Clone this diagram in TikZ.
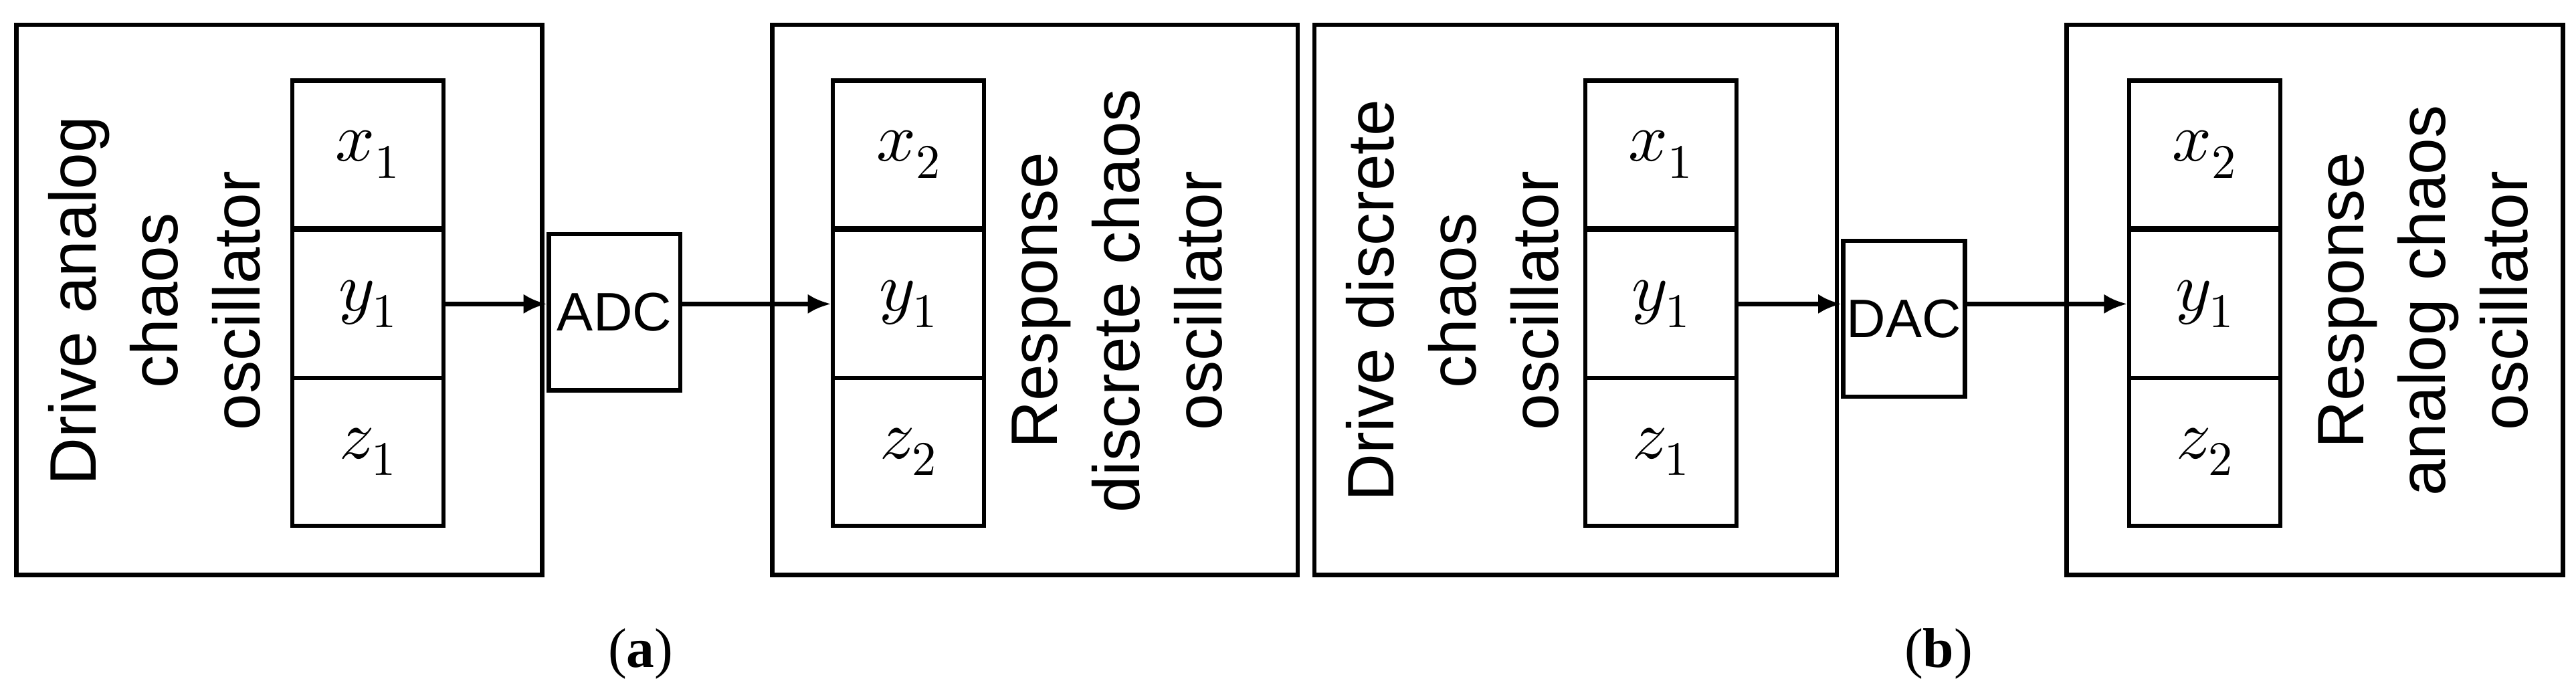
\documentclass[tikz,border=0pt]{standalone}
\usepackage{fontspec}
\setmainfont{Liberation Serif}
\setsansfont{Liberation Sans}
\usepackage{unicode-math}
\setmathfont{Latin Modern Math}
\usetikzlibrary{arrows.meta}
\begin{document}
\begin{tikzpicture}[x=1pt,y=-1pt,
  box/.style={draw,line width=2.6pt,inner sep=0pt},
  cell/.style={draw,line width=2.6pt,minimum width=92pt,minimum height=90pt,inner sep=0pt,font=\fontsize{42}{42}\selectfont},
  lab/.style={rotate=90,align=center,font=\sffamily\fontsize{40}{50}\selectfont},
  conv/.style={draw,line width=2.6pt,minimum width=80pt,minimum height=95pt,inner sep=0pt,font=\sffamily\fontsize{33}{33}\selectfont},
  arr/.style={-{Latex[length=14pt,width=12pt]},line width=2.6pt}]
\useasboundingbox (0,0) rectangle (1568,418);
\fill[white] (0,0) rectangle (1568,418);
% panel a
\node[box,minimum width=320pt,minimum height=335pt] (A1) at (170,182.5) {};
\node[cell] (ax) at (224,94) {$x_1$};
\node[cell] (ay) at (224,185) {$y_1$};
\node[cell] (az) at (224,275) {$z_1$};
\node[lab] (al) at (94,183) {Drive analog\\chaos\\oscillator};
\node[conv] (adc) at (374,190) {ADC};
\node[box,minimum width=320pt,minimum height=335pt] (A2) at (630,182.5) {};
\node[cell] (bx) at (553,94) {$x_2$};
\node[cell] (by) at (553,185) {$y_1$};
\node[cell] (bz) at (553,275) {$z_2$};
\node[lab] (bl) at (680,183) {Response\\discrete chaos\\oscillator};
\draw[arr] (ay.east) -- (ay.east -| adc.west);
\draw[arr] (ay.east -| adc.east) -- (by.west);
\node[font=\fontsize{34}{34}\selectfont] (ca) at (390,398) {(\textbf{a})};
% panel b
\node[box,minimum width=318pt,minimum height=335pt] (B1) at (959,182.5) {};
\node[cell] (cx) at (1011,94) {$x_1$};
\node[cell] (cy) at (1011,185) {$y_1$};
\node[cell] (cz) at (1011,275) {$z_1$};
\node[lab] (cl) at (884,183) {Drive discrete\\chaos\\oscillator};
\node[conv,minimum width=74pt] (dac) at (1159,194) {DAC};
\node[box,minimum width=302pt,minimum height=335pt] (B2) at (1409,182.5) {};
\node[cell] (dx) at (1342,94) {$x_2$};
\node[cell] (dy) at (1342,185) {$y_1$};
\node[cell] (dz) at (1342,275) {$z_2$};
\node[lab] (dl) at (1475,183) {Response\\analog chaos\\oscillator};
\draw[arr] (cy.east) -- (cy.east -| dac.west);
\draw[arr] (cy.east -| dac.east) -- (dy.west);
\node[font=\fontsize{34}{34}\selectfont] (cb) at (1180,398) {(\textbf{b})};
\end{tikzpicture}
\end{document}
